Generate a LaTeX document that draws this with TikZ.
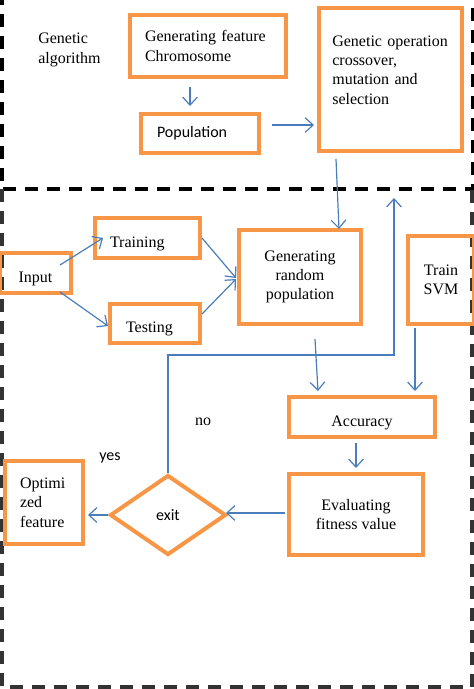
\documentclass[tikz,border=0pt]{standalone}
\usepackage{fontspec}
\setmainfont{Liberation Serif}
\newfontfamily\calibrifont{Carlito}
\usepackage{xcolor}
\usepackage{tikz}
\usetikzlibrary{arrows.meta,positioning,calc,shapes.geometric}
\definecolor{boxorange}{HTML}{F79646}
\definecolor{flowblue}{HTML}{4A7EBB}

\begin{document}
\begin{tikzpicture}[
			x={(0.75pt,0pt)},
			y={(0pt,-0.75pt)},
			font=\fontsize{12}{14.5}\selectfont,
			box/.style={rectangle,draw=boxorange,line width=3pt,inner ysep=0pt},
			lbox/.style={box,align=left},
			cbox/.style={box,align=center},
			lowtext/.style={text height=14pt,text depth=0pt},
			sans/.style={font=\calibrifont\fontsize{12}{14.5}\selectfont},
			flow/.style={flowblue,line width=0.9pt,-{Straight Barb[length=6pt,width=11pt]}},
			frame/.style={line width=2.4pt,dash pattern=on 10pt off 6.5pt}
			]
			
			\useasboundingbox (0,0) rectangle (474,689);
			
			%------------------------------
			% Dashed frames
			%------------------------------
			\draw[frame,black] (2,-8) rectangle (473,189);
			\draw[frame,black!80] (2,189) -- (2,687) -- (472,687) -- (472,189);
			
			%------------------------------
			% Genetic algorithm part
			%------------------------------
			\node[align=left,anchor=west,inner sep=0pt] (galabel) at (38,50) {Genetic\\algorithm};
			\node[lbox,minimum height=46.5pt,text width=94.5pt,inner xsep=11.25pt] (chrom) at (208,46) {Generating feature\\Chromosome};
			\node[lbox,sans,minimum height=29.25pt,text width=64.5pt,inner xsep=12pt] (pop) at (200,133.5) {Population};
			\node[lbox,minimum height=107.25pt,text width=87.25pt,inner xsep=10pt] (genop) at (390.5,79.5) {Genetic operation\\crossover,\\mutation and\\selection\\\mbox{}};
			
			%------------------------------
			% Classification part
			%------------------------------
			\node[cbox,lowtext,minimum width=53.25pt,minimum height=30pt] (input) at (35.5,273) {Input};
			\node[lbox,lowtext,minimum height=30pt,text width=56.25pt,inner xsep=11.25pt] (train) at (147.5,238) {Training};
			\node[lbox,lowtext,minimum height=29.25pt,text width=43.5pt,inner xsep=12pt] (test) at (155,323.5) {Testing};
			\node[cbox,minimum width=91.5pt,minimum height=70.5pt] (genrand) at (300,277) {Generating\\random\\population};
			\node[cbox,minimum width=49.5pt,minimum height=66pt] (svm) at (441,280) {Train\\SVM};
			\node[cbox,lowtext,minimum width=109.5pt,minimum height=30pt] (acc) at (362,417) {Accuracy};
			\node[cbox,minimum width=100.5pt,minimum height=60.75pt] (evalf) at (356,514.5) {Evaluating\\fitness value};
			\node[draw=boxorange,line width=3pt,diamond,sans,aspect=1.45,inner sep=0pt,minimum width=87pt,minimum height=60pt] (exit) at (168,515) {exit};
			\node[lbox,minimum height=62.25pt,text width=36pt,inner xsep=11.25pt] (opt) at (44,502.5) {Optimi\\zed\\feature};
			
			\node (nolabel) at (203,422) {no};
			\node[sans] (yeslabel) at (110,458) {yes};
			\coordinate (looptop) at (394,198);
			
			%------------------------------
			% Arrows
			%------------------------------
			\draw[flow] ($(chrom.south)+(-18,8)$) -- ($(pop.north)+(-10,-6)$);
			\draw[flow] ($(pop.east)+(11,-8.5)$) -- ($(genop.west)+(-3,45.5)$);
			\draw[flow] ($(genop.south)+(-54.5,6)$) -- ($(genrand.north)+(39,1)$);
			\draw[flow] ($(input.east)+(-13,-8)$) -- ($(train.west)+(10,0)$);
			\draw[flow] ($(input.east)+(-13,19)$) -- ($(test.west)+(0,2.5)$);
			\draw[flow] (train.east) -- ($(genrand.west)+(-1,1)$);
			\draw[flow] ($(test.east)+(0,-9.5)$) -- ($(genrand.west)+(-1,2)$);
			\draw[flow] ($(genrand.south)+(15,13)$) -- ($(acc.north)+(-44,-4)$);
			\draw[flow] ($(svm.south)+(-26,2)$) -- ($(acc.north)+(53,-4)$);
			\draw[flow] ($(acc.south)+(-6,4)$) -- ($(evalf.north)+(0,-4)$);
			\draw[flow] ($(evalf.west)+(-2,-1.5)$) -- ($(exit.east)+(-2,-2)$);
			\draw[flow] (exit.west) -- ($(opt.east)+(3,12.5)$);
			\draw[flow] (exit.north) |- ($(looptop)+(0,157)$) -- (looptop);
		\end{tikzpicture}
\end{document}
